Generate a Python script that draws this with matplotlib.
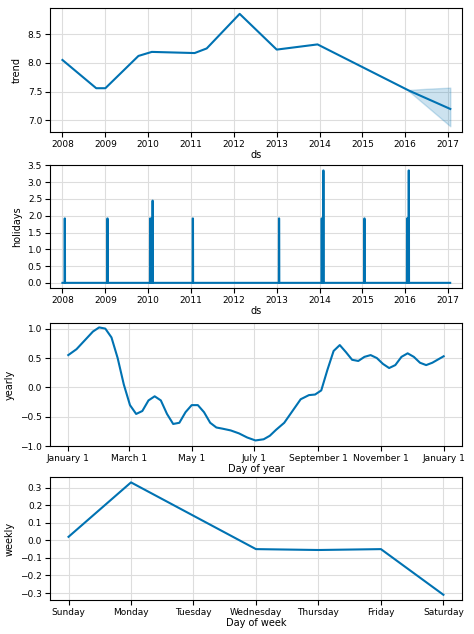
import matplotlib
matplotlib.use("Agg")
import matplotlib.pyplot as plt
import numpy as np
import datetime as dt
import matplotlib.dates as mdates

# trend
trend_dates = ["2008-01-01","2008-10-15","2009-01-01","2009-10-10","2010-02-01","2011-02-01","2011-05-15","2012-02-20","2013-01-01","2013-12-15","2016-02-01","2017-01-20"]
trend_vals = [8.05,7.56,7.56,8.12,8.19,8.17,8.25,8.85,8.23,8.32,7.52,7.20]
unc_dates = ["2016-02-01","2016-07-01","2017-01-20"]
unc_upper = [7.53,7.55,7.57]
unc_lower = [7.51,7.25,6.90]

# holidays
hol_dates = ["2008-01-20","2009-01-18","2010-01-17","2010-01-31","2010-02-07","2011-01-16","2013-01-20","2014-01-19","2014-02-02","2015-01-18","2016-01-17","2016-01-31"]
hol_vals = [1.92,1.92,1.92,1.92,2.45,1.92,1.92,1.92,3.35,1.92,1.92,3.35]

# yearly
yr_days = [0,8,16,24,30,36,42,48,54,60,66,72,78,84,90,96,102,108,114,120,126,132,138,144,150,158,166,174,182,190,196,202,210,218,226,234,240,246,252,258,264,270,276,282,288,294,300,306,312,318,324,330,336,342,348,354,360,365]
yr_vals = [0.55,0.65,0.8,0.95,1.02,1.0,0.85,0.5,0.05,-0.3,-0.45,-0.4,-0.22,-0.15,-0.22,-0.45,-0.62,-0.6,-0.42,-0.3,-0.3,-0.42,-0.6,-0.68,-0.7,-0.73,-0.78,-0.85,-0.9,-0.88,-0.82,-0.72,-0.6,-0.4,-0.2,-0.13,-0.12,-0.05,0.3,0.62,0.72,0.6,0.47,0.45,0.52,0.55,0.5,0.4,0.33,0.38,0.52,0.58,0.52,0.42,0.38,0.42,0.48,0.53]
yr_ticks = ["January 1","March 1","May 1","July 1","September 1","November 1","January 1"]

# weekly
days = ["Sunday","Monday","Tuesday","Wednesday","Thursday","Friday","Saturday"]
wk_vals = [0.02,0.33,0.14,-0.05,-0.055,-0.05,-0.31]

c = "#0072B2"
plt.rcParams.update({"font.size": 7})
fig = plt.figure(figsize=(4.74, 6.34), dpi=100)
axs = [fig.add_axes([0.105, b, 0.87, 0.195]) for b in (0.792, 0.545, 0.296, 0.053)]

td = [dt.datetime.fromisoformat(d) for d in trend_dates]
ax = axs[0]
ax.plot(td, trend_vals, color=c)
ax.fill_between([dt.datetime.fromisoformat(d) for d in unc_dates], unc_lower, unc_upper, color=c, alpha=0.2)
ax.set_ylabel("trend"); ax.set_xlabel("ds", labelpad=1)
ax.set_yticks([7.0,7.5,8.0,8.5])

ax = axs[1]
start = dt.datetime(2008,1,1)
n = (dt.datetime(2017,1,20)-start).days
dd = [start+dt.timedelta(days=i) for i in range(n)]
hv = np.zeros(n)
for d, v in zip(hol_dates, hol_vals):
    i = (dt.datetime.fromisoformat(d)-start).days
    hv[i:i+3] = v
ax.plot(dd, hv, color=c)
ax.set_ylabel("holidays"); ax.set_xlabel("ds", labelpad=1)
ax.set_yticks(np.arange(0,3.6,0.5))

for a in axs[:2]:
    a.xaxis.set_major_locator(mdates.YearLocator())
    a.xaxis.set_major_formatter(mdates.DateFormatter("%Y"))
    a.set_xlim(dt.datetime(2007,9,15), dt.datetime(2017,5,1))

ax = axs[2]
ax.plot(yr_days, yr_vals, color=c)
ax.set_xticks([0,59,120,181,243,304,365]); ax.set_xticklabels(yr_ticks)
ax.set_xlim(-18,383); ax.set_ylim(-1.0,1.1)
ax.set_yticks([-1.0,-0.5,0.0,0.5,1.0])
ax.set_ylabel("yearly"); ax.set_xlabel("Day of year", labelpad=1)

ax = axs[3]
ax.plot(range(7), wk_vals, color=c)
ax.set_xticks(range(7)); ax.set_xticklabels(days)
ax.set_xlim(-0.3,6.3)
ax.set_yticks(np.arange(-0.3,0.31,0.1))
ax.set_ylabel("weekly"); ax.set_xlabel("Day of week", labelpad=1)

for a in axs:
    a.grid(True, color="#dddddd", linewidth=0.8)
    a.set_axisbelow(True)
    a.tick_params(labelsize=6.5, pad=2)

fig.savefig("out.png", dpi=100)
